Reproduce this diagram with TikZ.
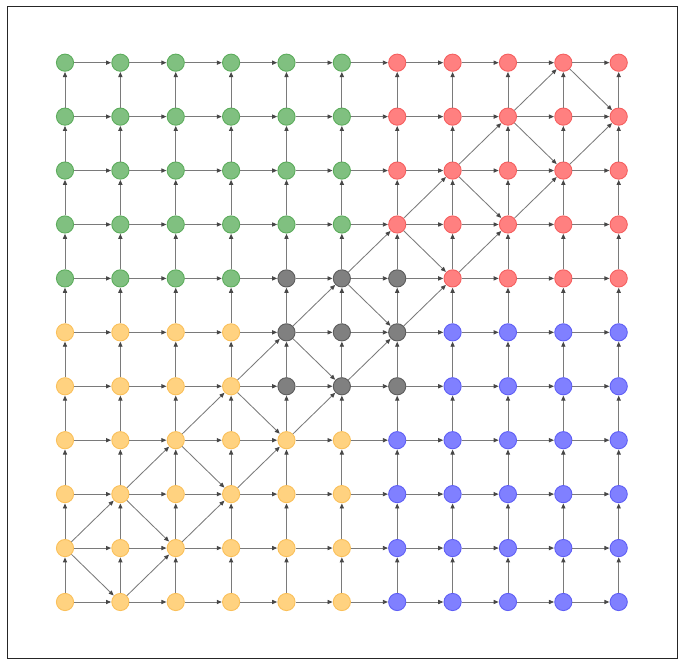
\documentclass[tikz,border=0pt]{standalone}
\usetikzlibrary{arrows.meta}
\definecolor{grf}{RGB}{128,192,128}
\definecolor{grd}{RGB}{92,172,92}
\definecolor{rdf}{RGB}{255,128,128}
\definecolor{rdd}{RGB}{245,95,95}
\definecolor{blf}{RGB}{128,128,255}
\definecolor{bld}{RGB}{95,95,245}
\definecolor{ylf}{RGB}{255,210,128}
\definecolor{yld}{RGB}{250,192,90}
\definecolor{gyf}{RGB}{128,128,128}
\definecolor{gyd}{RGB}{92,92,92}
\begin{document}
\begin{tikzpicture}[x=1pt,y=1pt,
  nd/.style={circle,inner sep=0pt,minimum size=17.2pt,line width=0.9pt},
  ed/.style={draw=black!52,line width=0.85pt,-{Triangle[length=5pt,width=4.2pt,color=black!72,fill=black!72]},shorten >=0.3pt}]
\useasboundingbox (0,0) rectangle (683,666);
\draw[line width=1pt,black!85] (7,7) rectangle (677,659.5);
\foreach \i in {0,...,10}{
  \foreach \j in {0,...,10}{
    \ifnum\j>6
      \ifnum\i>5 \def\c{rd}\else\def\c{gr}\fi
    \else\ifnum\j=6
      \ifnum\i>6 \def\c{rd}\else\ifnum\i>3 \def\c{gy}\else\def\c{gr}\fi\fi
    \else\ifnum\j>3
      \ifnum\i>6 \def\c{bl}\else\ifnum\i>3 \def\c{gy}\else\def\c{yl}\fi\fi
    \else
      \ifnum\i>5 \def\c{bl}\else\def\c{yl}\fi
    \fi\fi\fi
    \node[nd,fill=\c f,draw=\c d] (n\i-\j) at ({65+55.37*\i},{64+53.93*\j}) {};
  }
}
% horizontal edges
\foreach \i [evaluate=\i as \ii using int(\i+1)] in {0,...,9}{
  \foreach \j in {0,...,10}{
    \draw[ed] (n\i-\j) -- (n\ii-\j);
  }
}
% vertical edges
\foreach \j [evaluate=\j as \jj using int(\j+1)] in {0,...,9}{
  \foreach \i in {0,...,10}{
    \draw[ed] (n\i-\j) -- (n\i-\jj);
  }
}
% diagonal edges
\foreach \k [evaluate=\k as \kp using int(\k+1)] in {0,...,9}{
  \draw[ed] (n\k-\kp) -- (n\kp-\k);
}
\foreach \k [evaluate=\k as \kp using int(\k+1), evaluate=\k as \kpp using int(\k+2)] in {0,...,8}{
  \draw[ed] (n\k-\kp) -- (n\kp-\kpp);
}
\foreach \k [evaluate=\k as \kp using int(\k+1), evaluate=\k as \km using int(\k-1)] in {1,...,9}{
  \draw[ed] (n\k-\km) -- (n\kp-\k);
}
\end{tikzpicture}
\end{document}
